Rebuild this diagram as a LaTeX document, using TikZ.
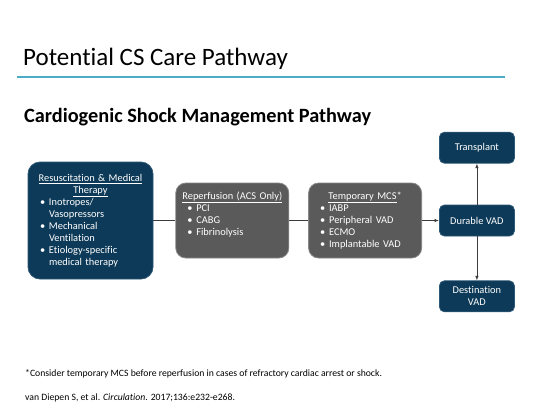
\documentclass[tikz,border=0pt]{standalone}
\usepackage{fontspec}
\setmainfont{Carlito}[Ligatures=NoCommon]
\usetikzlibrary{arrows.meta, positioning}
\definecolor{navyBox}{RGB}{13,58,88}
\definecolor{navyEdge}{RGB}{45,88,118}
\definecolor{grayBox}{RGB}{90,90,90}
\definecolor{grayEdge}{RGB}{135,135,135}
\definecolor{tealRule}{RGB}{75,172,198}
\definecolor{lineGray}{RGB}{60,60,60}
\newcommand{\bul}[1]{\par\hangindent=14pt\hangafter=1\noindent\makebox[14pt][l]{\hspace{5pt}\textbullet}#1\par}

\begin{document}
\begin{tikzpicture}[x=1pt, y=1pt,
    navybox/.style={rectangle, draw=navyEdge, line width=0.8pt, fill=navyBox, text=white, font=\fontsize{10.4}{12}\selectfont},
    graybox/.style={rectangle, draw=grayEdge, line width=0.8pt, fill=grayBox, text=white, rounded corners=10pt, minimum width=113pt, minimum height=75pt, text width=100pt, inner xsep=6.5pt, font=\fontsize{10.4}{12}\selectfont},
    endbox/.style={navybox, rounded corners=5pt, minimum width=75pt, minimum height=31pt, align=center, inner sep=2pt},
    conn/.style={draw=lineGray, line width=0.8pt},
    arrow/.style={conn, -{Latex[length=4.5pt, width=3.5pt]}}
]
\useasboundingbox[fill=white] (0,0) rectangle (540,-405);

% headings
\node[anchor=base west, inner sep=0, font=\fontsize{25}{29}\selectfont] (title) at (23,-65) {Potential CS Care Pathway};
\draw[tealRule, line width=1.2pt] (17,-77) -- (505,-77);
\node[anchor=base west, inner sep=0, font=\bfseries\fontsize{20.3}{24}\selectfont] (subtitle) at (24,-122) {Cardiogenic Shock Management Pathway};

% pathway
\node[navybox, rounded corners=12pt, minimum width=125pt, minimum height=117pt, text width=111pt, inner xsep=7pt] (resus) at (90.5,-220.5)
    {{\centering\underline{Resuscitation \& Medical}\\\underline{Therapy}\par}\raggedright
     \bul{Inotropes/\newline Vasopressors}\bul{Mechanical\newline Ventilation}\bul{Etiology-specific\newline medical therapy}};
\node[graybox, right=22pt of resus] (reperf)
    {{\centering\underline{Reperfusion (ACS Only)}\par}\raggedright
     \bul{PCI}\bul{CABG}\bul{Fibrinolysis}\vspace*{12pt}};
\node[graybox, right=19pt of reperf] (mcs)
    {{\centering\underline{Temporary MCS}*\par}\raggedright
     \bul{IABP}\bul{Peripheral VAD}\bul{ECMO}\bul{Implantable VAD}};
\node[endbox, right=17pt of mcs] (durable) {Durable VAD};
\node[endbox, above=41pt of durable] (transplant) {Transplant};
\node[endbox, below=44pt of durable] (destination) {Destination\\VAD};

\draw[conn] (resus) -- (reperf);
\draw[conn] (reperf) -- (mcs);
\draw[arrow] (mcs) -- (durable);
\draw[arrow] (durable) -- (transplant);
\draw[arrow] (durable) -- (destination);

% footnotes
\node[anchor=base west, inner sep=0, font=\fontsize{9.7}{11}\selectfont] (note) at (25,-376) {*Consider temporary MCS before reperfusion in cases of refractory cardiac arrest or shock.};
\node[anchor=base west, inner sep=0, font=\fontsize{9.7}{11}\selectfont] (cite) at (25,-400) {van Diepen S, et al. \textit{Circulation}. 2017;136:e232-e268.};
\end{tikzpicture}
\end{document}
